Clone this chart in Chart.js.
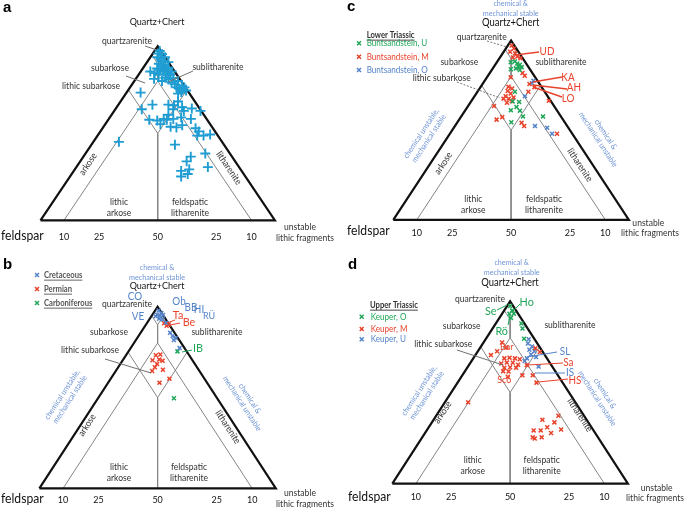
<!DOCTYPE html>
<html>
<head>
<meta charset="utf-8">
<script src="https://cdn.jsdelivr.net/npm/chart.js"></script>
<style>
  body { margin: 0; background: #fff; }
  #wrap { position: relative; width: 685px; height: 508px; }
  #wrap canvas { position: absolute; }
</style>
</head>
<body>
<div id="wrap">
  <canvas id="chart-a" width="342" height="254" style="left:0;top:0"></canvas>
  <canvas id="chart-c" width="343" height="254" style="left:342px;top:0"></canvas>
  <canvas id="chart-b" width="342" height="254" style="left:0;top:254px"></canvas>
  <canvas id="chart-d" width="343" height="254" style="left:342px;top:254px"></canvas>
</div>
<script>
// base of every triangle: percent unstable lithics of (feldspar + lithics)
var baseTicks = [10, 25, 50, 75, 90];
var baseTickLabels = ['10', '25', '50', '25', '10'];

// all samples are Quartz+Chert % and unstable lithic %, feldspar is the rest
// a - all samples
var aQuartz = [97.3, 95.5, 93.7, 92.8, 91.8, 90.0, 89.1, 88.2, 87.3, 86.4, 85.5, 84.6, 84.6, 83.7, 83.7, 81.9, 81.0, 81.9, 80.1, 79.2,
  78.3, 76.4, 75.5, 75.2, 74.6, 73.7, 72.8, 76.4, 85.5, 81.3, 90.9, 87.3, 85.5, 95.8, 93.7, 87.3, 80.1, 77.4,
  73.4, 66.5, 63.8, 68.3, 66.1, 65.0, 62.9, 63.8, 60.7, 58.3, 58.3, 57.8, 57.4, 55.3, 57.8, 53.8, 53.4, 54.7, 58.3, 62.9,
  52.9, 51.1, 48.7, 49.3, 48.7, 43.5, 45.1, 36.6, 38.4, 30.6, 33.9, 29.3, 28.4, 26.6, 25.2, 64.3, 59.2, 66.5];
var aLithic = [2.2, 4.1, 3.0, 4.8, 6.6, 5.5, 7.2, 9.1, 6.1, 8.0, 9.8, 11.6, 6.4, 8.6, 13.4, 12.3, 14.1, 15.7, 11.8, 16.3,
  18.1, 19.8, 21.6, 23.1, 24.8, 23.2, 22.3, 23.2, 4.1, 7.8, 9.1, 10.2, 13.2, 2.2, 6.3, 10.9, 18.6, 21.7,
  6.0, 14.5, 11.3, 24.5, 23.9, 27.9, 29.7, 24.7, 24.2, 23.4, 27.5, 17.5, 21.1, 23.5, 25.0, 28.6, 31.3, 33.1, 35.0, 36.8,
  39.7, 42.0, 45.2, 47.7, 42.5, 35.6, 10.9, 45.8, 51.1, 56.1, 45.4, 48.8, 45.8, 49.5, 47.4, 32.4, 30.4, 21.3];

// b - Cretaceous, Permian, Carboniferous
var bCretQuartz = [97.9, 96.5, 95.6, 94.7, 95.4, 93.3, 93.0, 91.2, 85.6, 83.9, 81.6, 82.8, 77.2, 94.7];
var bCretLithic = [1.5, 3.3, 2.0, 3.5, 4.6, 4.0, 5.6, 8.0, 12.5, 14.4, 16.1, 16.3, 20.7, 1.8];
var bPermQuartz = [90.9, 89.5, 90.2, 73.3, 73.7, 70.5, 70.9, 70.2, 68.4, 66.7, 65.3, 64.6, 58.2, 60.4];
var bPermLithic = [7.3, 9.1, 9.6, 12.6, 14.3, 12.6, 15.2, 17.0, 15.6, 15.5, 19.6, 15.4, 21.7, 24.8];
var bCarbQuartz = [75.4, 49.6];
var bCarbLithic = [20.7, 32.1];

// c - Lower Triassic (Buntsandstein U, M, O)
var cUQuartz = [88.4, 87.2, 86.5, 85.4, 85.2, 84.5, 83.6, 87.9, 84.0, 71.5, 66.2, 65.8, 63.0, 61.2, 60.9, 57.7, 54.4, 57.7];
var cULithic = [7.4, 9.0, 10.5, 10.5, 11.9, 9.8, 11.9, 5.9, 7.9, 15.9, 17.6, 20.5, 20.8, 19.3, 23.3, 26.2, 22.9, 34.7];
var cMQuartz = [97.3, 95.6, 93.8, 92.9, 91.1, 90.6, 90.2, 81.9, 80.4, 79.5, 74.2, 73.3, 71.9, 70.5, 69.0, 68.3, 67.6, 67.6,
  66.2, 65.3, 63.5, 55.9, 57.3, 54.1, 52.3, 75.8, 74.0, 71.5, 66.5, 48.0];
var cMLithic = [1.6, 3.4, 2.7, 5.3, 7.1, 5.5, 8.9, 13.9, 15.6, 10.1, 11.8, 13.8, 12.6, 14.6, 13.2, 16.9, 15.2, 13.0,
  17.2, 15.6, 11.0, 15.9, 17.6, 27.4, 29.4, 19.9, 22.9, 21.6, 32.8, 45.5];
var cOQuartz = [76.2, 69.0, 52.3, 51.4, 48.0, 77.6];
var cOLithic = [20.8, 21.4, 34.0, 39.6, 43.4, 20.7];

// d - Upper Triassic (Keuper O, M, U)
var dOQuartz = [97.4, 94.9, 93.2, 90.9, 87.8, 85.1, 79.5, 93.2];
var dOLithic = [1.3, 3.4, 5.0, 4.9, 10.9, 12.7, 16.2, 3.1];
var dMQuartz = [77.4, 74.7, 70.5, 72.6, 68.7, 69.1, 68.7, 68.2, 65.9, 66.4, 66.3, 65.2, 63.5, 63.8, 63.5, 61.7, 61.5, 59.4,
  65.0, 59.4, 55.4, 44.6, 37.2, 35.0, 33.6, 30.9, 29.2, 29.2, 27.8, 25.4, 24.7, 25.4, 58.6, 74.3, 72.2, 29.7];
var dMLithic = [7.9, 11.1, 6.6, 8.2, 13.2, 15.2, 17.7, 20.0, 13.3, 15.4, 18.0, 20.8, 15.8, 18.1, 20.8, 16.2, 18.6, 25.5,
  24.6, 29.9, 33.5, 9.9, 51.9, 46.2, 52.0, 50.3, 45.4, 48.4, 53.5, 46.9, 48.1, 50.7, 19.7, 23.6, 26.5, 56.8];
var dUQuartz = [76.9, 75.2, 73.4, 72.6, 70.8, 69.4, 68.7, 64.2, 67.3, 79.2];
var dULithic = [19.1, 21.7, 21.5, 24.0, 23.5, 26.3, 22.8, 30.0, 22.5, 18.3];

// field boundaries, [quartz, lithic] end points
var fieldLines = [
  [[95, 0], [90, 5]], [[95, 5], [90, 5]], [[90, 5], [80, 10]],
  [[0, 10], [80, 10]], [[0, 90], [80, 10]],
  [[75, 0], [50, 25]], [[75, 25], [50, 25]], [[50, 25], [0, 50]]
];

var CYAN = '#1f9dd3', RED = '#e8432c', GREEN = '#22a65a', BLUE = '#5584c8', NOTE = '#6e94d6', TXT = '#333';
var FONT = 'Lato, "Open Sans", sans-serif';

function toXY(q, l) { return { x: l + q / 2, y: q }; }

function L(t, x, y, o) { o = o || {}; o.t = t; o.x = x; o.y = y; return o; }

function regionLabels(p) {
  // p holds the per panel positions of the classification names
  return [
    L('Quartz+Chert', p.qc[0], p.qc[1], { s: p.qcs || 10, c: '#111' }),
    L('quartzarenite', p.qa[0], p.qa[1]),
    L('subarkose', p.sa[0], p.sa[1]),
    L('sublitharenite', p.sl[0], p.sl[1]),
    L('lithic subarkose', p.ls[0], p.ls[1]),
    L('arkose', p.ar[0], p.ar[1], { r: 'L' }),
    L('litharenite', p.li[0], p.li[1], { r: 'R' }),
    L('lithic\narkose', p.la[0], p.la[1]),
    L('feldspatic\nlitharenite', p.fl[0], p.fl[1]),
    L('feldspar', p.fe[0], p.fe[1], { s: 13.5, c: '#111', a: 'left' }),
    L('unstable', p.un[0], p.un[1]),
    L('lithic fragments', p.lf[0], p.lf[1], { a: p.lfA || 'center' })
  ];
}

var LETTER = { s: 15, bold: true, a: 'left', c: '#000', font: '"Liberation Sans", Arial, sans-serif', nc: true };
function letter(t, x, y) { return L(t, x, y, Object.assign({}, LETTER)); }

var panels = [
  {
    canvas: 'chart-a', W: 342, H: 254, tri: { left: 35, right: 279.3, apex: 41.7, base: 225.7 }, tickY: 237,
    series: [{ q: aQuartz, l: aLithic, color: CYAN, style: 'cross', r: 5, bw: 1.9 }],
    labels: [letter('a', 3, 8)].concat(regionLabels({
      qc: [157, 22], qa: [127, 41], sa: [110, 68], sl: [218, 67], ls: [91, 86], ar: [88, 164], li: [229, 168],
      la: [119, 207], fl: [190, 207], fe: [1, 236], un: [300, 227], lf: [305, 238]
    })),
    pointers: [[145, 46, 157, 50], [126, 76, 145, 83], [193, 71, 168, 82]]
  },
  {
    canvas: 'chart-b', W: 342, H: 254, tri: { left: 35, right: 279.3, apex: 49.3, base: 239.3 }, tickY: 246,
    series: [
      { q: bCretQuartz, l: bCretLithic, color: BLUE, style: 'crossRot', r: 2.8, bw: 1.5 },
      { q: bPermQuartz, l: bPermLithic, color: RED, style: 'crossRot', r: 2.8, bw: 1.5 },
      { q: bCarbQuartz, l: bCarbLithic, color: GREEN, style: 'crossRot', r: 2.8, bw: 1.5 }
    ],
    legend: { mx: 37, tx: 44, s: 8.5, bold: true, u: true, c: '#555',
      items: [['Cretaceous', BLUE, 21], ['Permian', RED, 35], ['Carboniferous', GREEN, 49]] },
    labels: [
      letter('b', 3, 11),
      L('chemical &\nmechanical stable', 157, 18.5, { s: 8, c: NOTE }),
      L('chemical unstable,\nmechanical stable', 66, 143, { s: 8, c: NOTE, r: 'L' }),
      L('chemical &\nmechanical unstable', 246, 147, { s: 8, c: NOTE, r: 'R' }),
      L('CO', 135, 42, { s: 11, c: BLUE }), L('VE', 138, 62, { s: 11, c: BLUE }),
      L('Ob', 179, 47, { s: 11, c: BLUE }), L('BB', 191, 53, { s: 11, c: BLUE }),
      L('HI', 199, 55, { s: 11, c: BLUE }), L('RÜ', 209, 62, { s: 10, c: BLUE }),
      L('Ta', 178, 61, { s: 12, c: RED }), L('Be', 189, 68, { s: 12, c: RED }),
      L('IB', 198, 94, { s: 12, c: GREEN })
    ].concat(regionLabels({
      qc: [157, 32], qa: [127, 50], sa: [109, 78], sl: [217, 78], ls: [90, 96], ar: [87, 171], li: [228, 173],
      la: [119, 218], fl: [189, 218], fe: [1, 245], un: [300, 239], lf: [305, 250]
    })),
    pointers: [[105, 105, 151, 119], [175, 66, 167, 69, RED], [180, 69, 170, 71, RED], [192, 96, 182, 98, GREEN]]
  },
  {
    canvas: 'chart-c', W: 343, H: 254, tri: { left: 47.3, right: 290.7, apex: 36.7, base: 224 }, tickY: 233,
    series: [
      { q: cUQuartz, l: cULithic, color: GREEN, style: 'crossRot', r: 2.8, bw: 1.5 },
      { q: cMQuartz, l: cMLithic, color: RED, style: 'crossRot', r: 2.8, bw: 1.5 },
      { q: cOQuartz, l: cOLithic, color: BLUE, style: 'crossRot', r: 2.8, bw: 1.5 }
    ],
    legend: { mx: 17, tx: 24.7, s: 9, c: null, title: ['Lower Triassic', 24.7, 35],
      items: [['Buntsandstein, U', GREEN, 43.3], ['Buntsandstein, M', RED, 56.7], ['Buntsandstein, O', BLUE, 70]] },
    labels: [
      letter('c', 5, 7),
      L('chemical &\nmechanical stable', 168.7, 8.5, { s: 8, c: NOTE }),
      L('chemical unstable,\nmechanical stable', 83, 136, { s: 8, c: NOTE, r: 'L' }),
      L('chemical &\nmechanical unstable', 260, 137, { s: 8, c: NOTE, r: 'R' }),
      L('UD', 205, 51, { s: 11, c: RED }), L('KA', 226, 77, { s: 11, c: RED }),
      L('AH', 232, 87.5, { s: 11, c: RED }), L('LO', 226, 98.5, { s: 11, c: RED })
    ].concat(regionLabels({
      qc: [168.7, 23], qcs: 10.5, qa: [139.7, 36.7], sa: [117.3, 61.7], sl: [219, 62], ls: [99.7, 77.7], ar: [101.3, 163.3], li: [238, 165],
      la: [131.3, 204], fl: [202, 204], fe: [5, 231], un: [306.3, 223.3], lf: [308, 233.3]
    })),
    pointers: [[145, 41, 165, 47, '#777', 1, true], [115, 82, 158, 98, '#777', 1, true],
      [197, 52, 173, 55, RED, 1.5], [220, 77, 191, 82, RED, 1.5], [225, 89, 191, 85, RED, 1.5], [220, 97, 191, 87, RED, 1.5]]
  },
  {
    canvas: 'chart-d', W: 343, H: 254, tri: { left: 46.3, right: 289.7, apex: 43.7, base: 234.3 }, tickY: 242.7,
    series: [
      { q: dOQuartz, l: dOLithic, color: GREEN, style: 'crossRot', r: 2.8, bw: 1.5 },
      { q: dMQuartz, l: dMLithic, color: RED, style: 'crossRot', r: 2.8, bw: 1.5 },
      { q: dUQuartz, l: dULithic, color: BLUE, style: 'crossRot', r: 2.8, bw: 1.5 }
    ],
    legend: { mx: 19.7, tx: 28.7, s: 9, c: null, title: ['Upper Triassic', 28, 51],
      items: [['Keuper, O', GREEN, 62.7], ['Keuper, M', RED, 75], ['Keuper, U', BLUE, 85.3]] },
    labels: [
      letter('d', 6, 11),
      L('chemical &\nmechanical stable', 169.7, 13.5, { s: 8, c: NOTE }),
      L('chemical unstable,\nmechanical stable', 81, 139, { s: 8, c: NOTE, r: 'L' }),
      L('chemical &\nmechanical unstable', 259, 142, { s: 8, c: NOTE, r: 'R' }),
      L('Se', 148.7, 57, { s: 12, c: GREEN }), L('Ho', 184.7, 48.3, { s: 12, c: GREEN }), L('Rö', 159.7, 76.7, { s: 12, c: GREEN }),
      L('Bar', 164.7, 92.7, { s: 10, c: RED }), L('Scö', 162.3, 125.3, { s: 10, c: RED }),
      L('SL', 223, 97, { s: 11, c: BLUE }), L('Sa', 226.3, 108.3, { s: 11, c: RED }),
      L('IS', 228, 118.3, { s: 11, c: BLUE }), L('HS', 233, 126.7, { s: 11, c: RED })
    ].concat(regionLabels({
      qc: [168, 28.7], qcs: 10.5, qa: [138, 45.3], sa: [119.7, 72], sl: [228, 71], ls: [101.3, 90.3], ar: [100.7, 158.3], li: [238, 161],
      la: [130.7, 211.7], fl: [199.7, 211.7], fe: [6, 242.7], un: [314.7, 234.3], lf: [342, 244.3], lfA: 'right'
    })),
    pointers: [[115, 96, 161, 111], [155, 56, 165, 51, GREEN], [178, 50, 170, 58, GREEN], [166, 71, 168, 61, GREEN],
      [215, 98, 185, 103, BLUE], [221, 109, 185, 111, RED], [223, 119, 193, 119, BLUE], [226, 125, 196, 128, RED]]
  }
];

function drawText(ctx, lb, ang) {
  var s = lb.s || 9.5;
  var lines = lb.t.split('\n');
  var lh = s * 1.15;
  ctx.save();
  ctx.translate(lb.x, lb.y);
  if (lb.r === 'L') ctx.rotate(ang);
  if (lb.r === 'R') ctx.rotate(-ang);
  if (!lb.nc) ctx.scale(0.9, 1);
  ctx.font = (lb.bold ? 'bold ' : '') + s + 'px ' + (lb.font || FONT);
  ctx.fillStyle = lb.c || TXT;
  ctx.textAlign = lb.a || 'center';
  ctx.textBaseline = 'middle';
  var y0 = -(lines.length - 1) * lh / 2;
  lines.forEach(function (ln, i) {
    var y = y0 + i * lh;
    ctx.fillText(ln, 0, y);
    if (lb.u) {
      var w = ctx.measureText(ln).width;
      var xs = lb.a === 'left' ? 0 : (lb.a === 'right' ? -w : -w / 2);
      ctx.fillRect(xs, y + s * 0.55, w, 0.9);
    }
  });
  ctx.restore();
}

function drawMarker(ctx, x, y, color) {
  var r = 2.8 * Math.SQRT1_2;
  ctx.save();
  ctx.strokeStyle = color;
  ctx.lineWidth = 1.5;
  ctx.beginPath();
  ctx.moveTo(x - r, y - r); ctx.lineTo(x + r, y + r);
  ctx.moveTo(x - r, y + r); ctx.lineTo(x + r, y - r);
  ctx.stroke();
  ctx.restore();
}

function makeAnnotator(p) {
  return {
    id: 'annot-' + p.canvas,
    afterDatasetsDraw: function (chart) {
      var ctx = chart.ctx, sx = chart.scales.x, sy = chart.scales.y;
      var fx = sx.getPixelForValue(0), fy = sy.getPixelForValue(0);
      var qx = sx.getPixelForValue(50), qy = sy.getPixelForValue(100);
      var ang = Math.atan2(qy - fy, qx - fx);
      ctx.save();
      p.pointers.forEach(function (pt) {
        ctx.beginPath();
        ctx.strokeStyle = pt[4] || '#6f6f6f';
        ctx.lineWidth = pt[5] || 1;
        ctx.setLineDash(pt[6] ? [2, 1.5] : []);
        ctx.moveTo(pt[0], pt[1]);
        ctx.lineTo(pt[2], pt[3]);
        ctx.stroke();
      });
      ctx.setLineDash([]);
      p.labels.forEach(function (lb) { drawText(ctx, lb, ang); });
      baseTicks.forEach(function (v, i) {
        drawText(ctx, L(baseTickLabels[i], sx.getPixelForValue(v), p.tickY, { s: 10, c: '#111' }), ang);
      });
      if (p.legend) {
        var lg = p.legend;
        if (lg.title) drawText(ctx, L(lg.title[0], lg.title[1], lg.title[2], { s: 8.5, bold: true, u: true, a: 'left', c: '#333' }), ang);
        lg.items.forEach(function (it) {
          drawMarker(ctx, lg.mx, it[2], it[1]);
          drawText(ctx, L(it[0], lg.tx, it[2], { s: lg.s, bold: lg.bold, u: lg.u, a: 'left', c: lg.c || it[1] }), ang);
        });
      }
      ctx.restore();
    }
  };
}

function buildChart(p) {
  var t = p.tri;
  var xPer = (t.right - t.left) / 100, yPer = (t.base - t.apex) / 100;
  var datasets = [];
  p.series.forEach(function (s) {
    datasets.push({
      data: s.q.map(function (q, i) { return toXY(q, s.l[i]); }),
      showLine: false,
      pointStyle: s.style,
      pointRadius: s.r,
      pointBorderWidth: s.bw,
      pointBorderColor: s.color,
      pointBackgroundColor: s.color,
      borderColor: s.color,
      clip: false
    });
  });
  datasets.push({
    data: [toXY(0, 0), toXY(0, 100), toXY(100, 0), toXY(0, 0)],
    showLine: true, borderColor: '#111', borderWidth: 2.2, pointRadius: 0, clip: false
  });
  fieldLines.forEach(function (seg) {
    datasets.push({
      data: seg.map(function (pt) { return toXY(pt[0], pt[1]); }),
      showLine: true, borderColor: '#858585', borderWidth: 1, pointRadius: 0, clip: false
    });
  });
  new Chart(document.getElementById(p.canvas), {
    type: 'scatter',
    data: { datasets: datasets },
    options: {
      responsive: false,
      animation: false,
      events: [],
      layout: { padding: 0 },
      plugins: { legend: { display: false }, tooltip: { enabled: false } },
      scales: {
        x: { type: 'linear', display: false, min: -t.left / xPer, max: (p.W - t.left) / xPer },
        y: { type: 'linear', display: false, min: -(p.H - t.base) / yPer, max: t.base / yPer }
      }
    },
    plugins: [makeAnnotator(p)]
  });
}

panels.forEach(buildChart);
</script>
</body>
</html>
